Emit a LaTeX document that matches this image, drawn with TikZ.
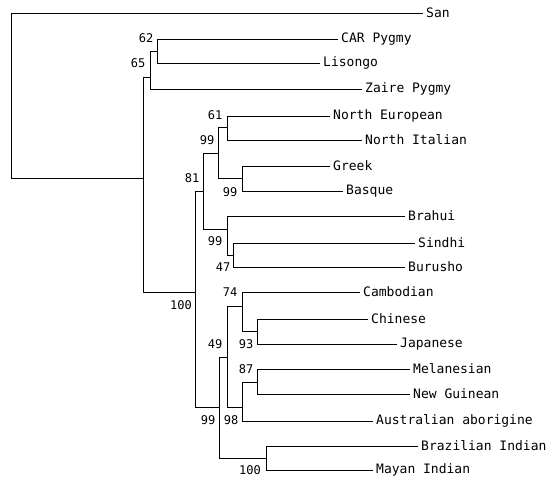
\documentclass[tikz,border=0pt]{standalone}
\usepackage{fontspec}
\setmonofont{DejaVu Sans Mono}

\begin{document}
\begin{tikzpicture}[x=1pt,y=-1pt,
   branch/.style={draw,line width=0.7pt},
   taxon/.style={anchor=west,inner xsep=3pt,inner ysep=0pt,font=\ttfamily\fontsize{13}{15}\selectfont},
   boot/.style={inner sep=0pt,font=\ttfamily\fontsize{12}{14}\selectfont}]
\useasboundingbox (0,0) rectangle (559,485);

% internal nodes
\coordinate (root) at (11,95);
\coordinate (core) at (143,178);
\coordinate (afr) at (150,77);
\coordinate (pyg) at (157,51);
\coordinate (eur) at (195,292);
\coordinate (cauc) at (203,191);
\coordinate (west) at (218,153);
\coordinate (north) at (227,127);
\coordinate (south) at (242,178);
\coordinate (pak) at (227,229);
\coordinate (indus) at (233,255);
\coordinate (east) at (219,407);
\coordinate (asoc) at (227,357);
\coordinate (asia) at (242,306);
\coordinate (chja) at (257,331);
\coordinate (ocea) at (242,407);
\coordinate (pap) at (257,382);
\coordinate (amer) at (266,458);

% leaves
\node[taxon] (san) at (423,13) {San};
\node[taxon] (car) at (338,39) {CAR Pygmy};
\node[taxon] (lis) at (320,63) {Lisongo};
\node[taxon] (zai) at (362,89) {Zaire Pygmy};
\node[taxon] (neu) at (330,116) {North European};
\node[taxon] (nit) at (362,140) {North Italian};
\node[taxon] (gre) at (330,166) {Greek};
\node[taxon] (bas) at (343,191) {Basque};
\node[taxon] (bra) at (405,216) {Brahui};
\node[taxon] (sin) at (415,243) {Sindhi};
\node[taxon] (bur) at (405,267) {Burusho};
\node[taxon] (cam) at (360,292) {Cambodian};
\node[taxon] (chi) at (368,319) {Chinese};
\node[taxon] (jap) at (397,344) {Japanese};
\node[taxon] (mel) at (410,369) {Melanesian};
\node[taxon] (ngu) at (410,394) {New Guinean};
\node[taxon] (aus) at (373,421) {Australian aborigine};
\node[taxon] (bzi) at (418,446) {Brazilian Indian};
\node[taxon] (may) at (373,470) {Mayan Indian};

% branches
\draw[branch] (root) |- (san.west);
\draw[branch] (root) |- (core);
\draw[branch] (core) |- (afr);
\draw[branch] (core) |- (eur);
\draw[branch] (afr) |- (pyg);
\draw[branch] (afr) |- (zai.west);
\draw[branch] (pyg) |- (car.west);
\draw[branch] (pyg) |- (lis.west);
\draw[branch] (eur) |- (cauc);
\draw[branch] (eur) |- (east);
\draw[branch] (cauc) |- (west);
\draw[branch] (cauc) |- (pak);
\draw[branch] (west) |- (north);
\draw[branch] (west) |- (south);
\draw[branch] (north) |- (neu.west);
\draw[branch] (north) |- (nit.west);
\draw[branch] (south) |- (gre.west);
\draw[branch] (south) |- (bas.west);
\draw[branch] (pak) |- (bra.west);
\draw[branch] (pak) |- (indus);
\draw[branch] (indus) |- (sin.west);
\draw[branch] (indus) |- (bur.west);
\draw[branch] (east) |- (asoc);
\draw[branch] (east) |- (amer);
\draw[branch] (asoc) |- (asia);
\draw[branch] (asoc) |- (ocea);
\draw[branch] (asia) |- (cam.west);
\draw[branch] (asia) |- (chja);
\draw[branch] (chja) |- (chi.west);
\draw[branch] (chja) |- (jap.west);
\draw[branch] (ocea) |- (pap);
\draw[branch] (ocea) |- (aus.west);
\draw[branch] (pap) |- (mel.west);
\draw[branch] (pap) |- (ngu.west);
\draw[branch] (amer) |- (bzi.west);
\draw[branch] (amer) |- (may.west);

% bootstrap values
\node[boot] (b62) at (146,38) {62};
\node[boot] (b65) at (138,63) {65};
\node[boot] (b61) at (215,115) {61};
\node[boot] (b99a) at (207,140) {99};
\node[boot] (b81) at (192,178) {81};
\node[boot] (b99b) at (230,192) {99};
\node[boot] (b99c) at (215,241) {99};
\node[boot] (b47) at (223,267) {47};
\node[boot] (b100a) at (181,305) {100};
\node[boot] (b74) at (230,292) {74};
\node[boot] (b49) at (215,344) {49};
\node[boot] (b93) at (246,344) {93};
\node[boot] (b87) at (246,369) {87};
\node[boot] (b99d) at (208,420) {99};
\node[boot] (b98) at (231,420) {98};
\node[boot] (b100b) at (250,470) {100};

\end{tikzpicture}
\end{document}
